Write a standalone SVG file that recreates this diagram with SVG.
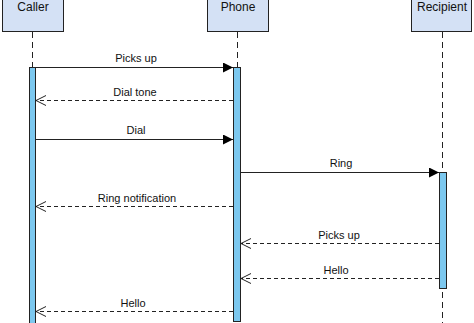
<svg xmlns="http://www.w3.org/2000/svg" width="474" height="323" viewBox="0 0 474 323">
<defs>
<style>
.box{fill:#d4e1f5;stroke:#222;stroke-width:1}
.life{stroke:#222;stroke-width:1;stroke-dasharray:6 4;fill:none}
.act{fill:#7cc8ef;stroke:#222;stroke-width:1}
.msg{stroke:#222;stroke-width:1;fill:none}
.ret{stroke:#222;stroke-width:1;fill:none;stroke-dasharray:4 3}
.t{font-family:"Liberation Sans",Arial,sans-serif;font-size:11px;fill:#111;text-anchor:middle}
.h{font-family:"Liberation Sans",Arial,sans-serif;font-size:12px;fill:#111;text-anchor:middle}
</style>
<marker id="fill" markerWidth="11" markerHeight="11" refX="10" refY="5" orient="auto" markerUnits="userSpaceOnUse">
<path d="M0,0 L10,5 L0,10 Z" fill="#000"/>
</marker>
<marker id="open" markerWidth="12" markerHeight="12" refX="10.5" refY="5.5" orient="auto" markerUnits="userSpaceOnUse">
<path d="M0.5,0.5 L10.5,5.5 L0.5,10.5" fill="none" stroke="#222" stroke-width="1"/>
</marker>
</defs>
<rect width="474" height="323" fill="#fff"/>
<g id="caller">
<rect class="box" x="2.5" y="-8.5" width="61" height="40"/>
<text class="h" x="33" y="11">Caller</text>
<line class="life" x1="32.5" y1="32" x2="32.5" y2="67"/>
<rect class="act" x="29.5" y="67.5" width="6" height="260"/>
</g>
<g id="phone">
<rect class="box" x="207.5" y="-8.5" width="61" height="40"/>
<text class="h" x="238" y="11">Phone</text>
<line class="life" x1="237.5" y1="32" x2="237.5" y2="67"/>
<rect class="act" x="233.5" y="67.5" width="7" height="254"/>
</g>
<g id="recipient">
<rect class="box" x="411.5" y="-8.5" width="60" height="40"/>
<text class="h" x="442" y="11">Recipient</text>
<line class="life" x1="442.5" y1="32" x2="442.5" y2="323"/>
<rect class="act" x="439.5" y="172.5" width="7" height="116"/>
</g>
<g id="connectors">
<line class="msg" x1="36" y1="67.5" x2="233" y2="67.5" marker-end="url(#fill)"/>
<text class="t" x="136" y="62">Picks up</text>
<line class="ret" x1="233" y1="100.5" x2="36" y2="100.5" marker-end="url(#open)"/>
<text class="t" x="135" y="96">Dial tone</text>
<line class="msg" x1="36" y1="139.5" x2="233" y2="139.5" marker-end="url(#fill)"/>
<text class="t" x="136" y="134">Dial</text>
<line class="msg" x1="241" y1="172.5" x2="439" y2="172.5" marker-end="url(#fill)"/>
<text class="t" x="341" y="167">Ring</text>
<line class="ret" x1="233" y1="206.5" x2="36" y2="206.5" marker-end="url(#open)"/>
<text class="t" x="137" y="202">Ring notification</text>
<line class="ret" x1="439" y1="243.5" x2="241" y2="243.5" marker-end="url(#open)"/>
<text class="t" x="339" y="239">Picks up</text>
<line class="ret" x1="439" y1="278.5" x2="241" y2="278.5" marker-end="url(#open)"/>
<text class="t" x="336" y="274">Hello</text>
<line class="ret" x1="233" y1="311.5" x2="36" y2="311.5" marker-end="url(#open)"/>
<text class="t" x="133" y="307">Hello</text>
</g>
</svg>
